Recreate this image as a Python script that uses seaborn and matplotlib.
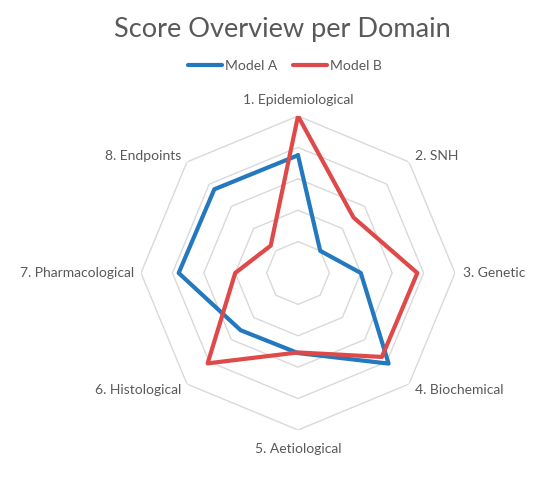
import numpy as np
import pandas as pd
import matplotlib
matplotlib.use("Agg")
import matplotlib.pyplot as plt
from matplotlib.lines import Line2D
import seaborn as sns

# Domain scores (scale 0-5)
domains = ['1. Epidemiological', '2. SNH', '3. Genetic', '4. Biochemical',
           '5. Aetiological', '6. Histological', '7. Pharmacological', '8. Endpoints']
model_a = [3.75, 1.0, 2.0, 4.08, 2.55, 2.58, 3.8, 3.77]
model_b = [5.0, 2.5, 3.8, 3.78, 2.53, 4.07, 2.0, 1.23]
ring_levels = [1, 2, 3, 4, 5]

colors = {'Model A': '#2479BE', 'Model B': '#DF4949'}
text_grey = '#595959'
grid_grey = '#D9D9D9'

sns.set_style("white")
plt.rcParams['font.family'] = ['Lato', 'DejaVu Sans']

n = len(domains)
angles = np.linspace(0, 2 * np.pi, n, endpoint=False)

# long table, first point repeated so every polygon closes
rows = []
for name, vals in [('Model A', model_a), ('Model B', model_b)]:
    for th, v in zip(list(angles) + [2 * np.pi], vals + vals[:1]):
        rows.append({'theta': th, 'score': v, 'model': name})
df = pd.DataFrame(rows)

fig = plt.figure(figsize=(5.5, 4.82), dpi=100)
cx, cy, rad = 298 / 550, 1 - 273 / 482, 157
ax = fig.add_axes([cx - rad / 550, cy - rad / 482, 2 * rad / 550, 2 * rad / 482],
                  projection='polar')
ax.set_theta_zero_location('N')
ax.set_theta_direction(-1)

# octagonal rings only (no spokes in the reference)
closed = list(angles) + [angles[0]]
for lv in ring_levels:
    ax.plot(closed, [lv] * (n + 1), color=grid_grey, lw=1.0, zorder=1)

sns.lineplot(data=df, x='theta', y='score', hue='model', palette=colors,
             sort=False, estimator=None, lw=3.0, ax=ax, legend=False, zorder=3)

ax.set_ylim(0, 5)
ax.grid(False)
ax.set_xticks([])
ax.set_yticks([])
ax.set_xlabel('')
ax.set_ylabel('')
ax.spines['polar'].set_visible(False)

# category labels
label_pos = [(5.52, 'center'), (5.27, 'left'), (5.25, 'left'), (5.25, 'left'),
             (5.6, 'center'), (5.27, 'right'), (5.22, 'right'), (5.27, 'right')]
for th, lab, (r, ha) in zip(angles, domains, label_pos):
    ax.text(th, r, lab, ha=ha, va='center', fontsize=10, color=text_grey,
            clip_on=False)

fig.text(0.513, 1 - 30 / 482, 'Score Overview per Domain', ha='center', va='center',
         fontsize=19.5, color=text_grey)

handles = [Line2D([0], [0], color=colors[m], lw=3.0) for m in colors]
fig.legend(handles, list(colors), loc='center', bbox_to_anchor=(0.518, 1 - 66 / 482),
           ncol=2, frameon=False, fontsize=10, handlelength=2.5, handletextpad=0.2,
           columnspacing=1.1, labelcolor=text_grey)

plt.savefig('out.png', dpi=100)
